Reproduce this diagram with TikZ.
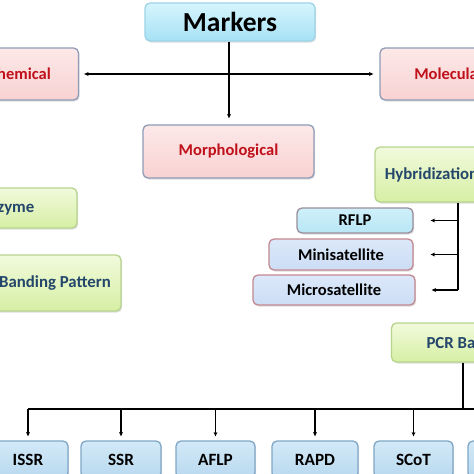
\documentclass[tikz,border=0pt]{standalone}
\usepackage{fontspec}
\setmainfont{Carlito}
\usetikzlibrary{arrows.meta,calc,shadows}
\definecolor{pinkT}{HTML}{FDE8E8}
\definecolor{pinkB}{HTML}{F8D2D2}
\definecolor{pinkD}{HTML}{8E9CB6}
\definecolor{redT}{HTML}{C0101A}
\definecolor{grnT}{HTML}{F1FADC}
\definecolor{grnB}{HTML}{D6EFA4}
\definecolor{grnD}{HTML}{B7D48E}
\definecolor{navT}{HTML}{24466B}
\definecolor{cyT}{HTML}{D6F5FD}
\definecolor{cyB}{HTML}{A6E1F4}
\definecolor{cyD}{HTML}{9CD3E6}
\definecolor{blT}{HTML}{D2E9F7}
\definecolor{blB}{HTML}{B9D9EF}
\definecolor{blD}{HTML}{7FA6C6}
\definecolor{lbT}{HTML}{DCE8FA}
\definecolor{lbB}{HTML}{CCDDF5}
\definecolor{lbD}{HTML}{C48890}
\definecolor{rfT}{HTML}{CFF0FA}
\definecolor{rfB}{HTML}{B8E6F5}
\definecolor{rfD}{HTML}{9A8E9A}
\tikzset{
  x=1pt,y=1pt,
  boxbase/.style={rounded corners=5pt, line width=1.3pt, inner sep=0pt, font=\bfseries,
    drop shadow={opacity=0.25, shadow xshift=1.2pt, shadow yshift=-1.5pt}},
  topbox/.style={boxbase, draw=cyD, top color=cyT, bottom color=cyB, text=black, font=\bfseries\fontsize{27.5}{29}\selectfont},
  pinkbox/.style={boxbase, draw=pinkD, top color=pinkT, bottom color=pinkB, text=redT, font=\bfseries\fontsize{16.5}{18}\selectfont},
  greenbox/.style={boxbase, draw=grnD, top color=grnT, bottom color=grnB, text=navT, font=\bfseries\fontsize{16.8}{18}\selectfont},
  rfbox/.style={boxbase, draw=rfD, top color=rfT, bottom color=rfB, text=black, font=\bfseries\fontsize{16.5}{18}\selectfont},
  satbox/.style={boxbase, draw=lbD, top color=lbT, bottom color=lbB, text=black, font=\bfseries\fontsize{16.5}{18}\selectfont},
  pcrbox/.style={boxbase, draw=blD, top color=blT, bottom color=blB, text=black, font=\bfseries\fontsize{17.2}{18}\selectfont},
  conn/.style={line width=1.2pt, black},
  arr/.style={conn, -{Stealth[length=4.5pt,width=4pt]}},
}
\begin{document}
\begin{tikzpicture}
\useasboundingbox (0,0) rectangle (474,-474);
\clip (0,0) rectangle (474,-474);
\fill[white] (0,0) rectangle (474,-474);
% top level
\node[topbox, minimum width=170pt, minimum height=38pt] (markers) at (230,-22) {Markers};
\node[pinkbox, minimum width=138pt, minimum height=52pt] (bio) at (9.5,-74) {Biochemical};
\node[pinkbox, minimum width=138pt, minimum height=52pt] (mol) at (449,-74) {Molecular};
\node[pinkbox, minimum width=171pt, minimum height=53pt] (morph) at (228.5,-151.5) {Morphological};
% left green
\node[greenbox, minimum width=142pt, minimum height=40pt] (iso) at (6,-208) {Isozyme};
\node[greenbox, minimum width=132pt, minimum height=56pt] (band) at (55,-283) {Banding Pattern};
% hybridization
\node[greenbox, minimum width=113pt, minimum height=55pt] (hyb) at (431.5,-174.5) {Hybridization};
\node[rfbox, minimum width=116pt, minimum height=25pt] (rflp) at (355,-220.5) {RFLP};
\node[satbox, minimum width=144pt, minimum height=31pt] (mini) at (341,-254.5) {Minisatellite};
\node[satbox, minimum width=162pt, minimum height=30pt] (micro) at (334,-290) {Microsatellite};
% PCR
\node[greenbox, minimum width=143pt, minimum height=39pt] (pcr) at (463,-342.5) {PCR Based};
\node[pcrbox, minimum width=80pt, minimum height=37pt] (issr) at (28,-459.5) {ISSR};
\node[pcrbox, minimum width=80pt, minimum height=37pt] (ssr) at (121,-459.5) {SSR};
\node[pcrbox, minimum width=79pt, minimum height=37pt] (aflp) at (215.5,-459.5) {AFLP};
\node[pcrbox, minimum width=86pt, minimum height=37pt] (rapd) at (315,-459.5) {RAPD};
\node[pcrbox, minimum width=79pt, minimum height=37pt] (scot) at (413.5,-459.5) {SCoT};
\node[pcrbox, minimum width=80pt, minimum height=37pt] (sixth) at (508,-459.5) {};
% connectors from Markers
\coordinate (mx) at (229,-74);
\draw[conn] (markers.south -| mx) -- (mx);
\draw[arr, shorten >=6pt] (mx) -- (morph.north -| mx);
\draw[arr, shorten >=5pt] (mx) -- (bio.east);
\draw[arr, shorten >=6pt] (mx) -- (mol.west);
% hybridization connectors
\coordinate (hx) at (458,0);
\draw[conn] (hyb.south -| hx) -- (micro.east -| hx);
\draw[arr, shorten >=17pt] (rflp.east -| hx) -- (rflp.east);
\draw[arr, shorten >=17pt] (mini.east -| hx) -- (mini.east);
\draw[arr, shorten >=16pt] (micro.east -| hx) -- (micro.east);
% PCR connectors
\coordinate (hbar) at (463,-409);
\coordinate (hend) at (480,-409);
\coordinate (hstart) at (28,-409);
\draw[conn] (pcr.south) -- (hbar);
\draw[conn] (hstart) -- (hend);
\foreach \n in {issr,ssr,aflp,rapd,scot}{
  \draw[arr, shorten >=4pt] (\n.north |- hbar) -- (\n.north);
}
\end{tikzpicture}
\end{document}
